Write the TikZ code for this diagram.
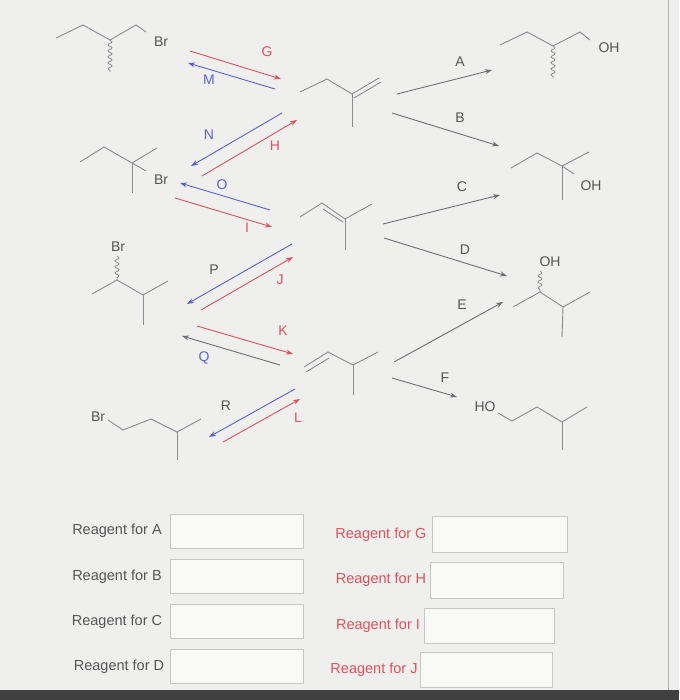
\documentclass[tikz,border=0pt]{standalone}
\usepackage{fontspec}
\setmainfont{Liberation Sans}
\usetikzlibrary{decorations.pathmorphing,arrows.meta}
\definecolor{bg}{HTML}{EFEFED}
\definecolor{rd}{HTML}{E0525C}
\definecolor{bl}{HTML}{5A62D2}
\definecolor{gr}{HTML}{6E6E78}
\definecolor{tx}{HTML}{555558}
\begin{document}
\begin{tikzpicture}[x=1pt,y=-1pt,
 bond/.style={draw=gr!80,line width=0.9pt},
 wavy/.style={draw=gr!80,line width=0.8pt,decorate,decoration={snake,amplitude=2pt,segment length=6pt}},
 rarr/.style={draw=rd,line width=0.9pt,-{Stealth[length=7pt,width=5pt]}},
 barr/.style={draw=bl,line width=0.9pt,-{Stealth[length=7pt,width=5pt]}},
 garr/.style={draw=gr,line width=0.9pt,-{Stealth[length=7pt,width=5pt]}},
 atom/.style={text=tx,font=\fontsize{14}{14}\selectfont,inner sep=0pt},
 lab/.style={font=\fontsize{14}{14}\selectfont,inner sep=0pt},
 box/.style={draw=gray!45,fill=white!60!bg,line width=0.8pt},
 rtxt/.style={font=\fontsize{14.5}{14.5}\selectfont,inner sep=0pt}]
\fill[bg] (0,0) rectangle (679,700);
\useasboundingbox (0,0) rectangle (679,700);
\fill[black!75] (0,690) rectangle (679,700);
\draw[gray!60,line width=1pt] (668,0) -- (668,690);
% structure 1
\draw[bond] (56,38)--(83,25)--(110,40)--(136,25)--(146,32);
\node[atom] (br1) at (161,42) {Br};
\draw[wavy] (110,40)--(110,72);
% structure 2
\draw[bond] (80,162)--(104,147)--(132,163)--(157,148);
\draw[bond] (132,163)--(132,193);\draw[bond] (132,163)--(146,171);
\node[atom] (br2) at (161,180) {Br};
% structure 3
\node[atom] (br3) at (118,247) {Br};
\draw[wavy] (117,256)--(117,280);
\draw[bond] (92,294)--(117,280)--(143,295)--(168,281);
\draw[bond] (143,295)--(143,325);
% structure 4
\node[atom] (br4) at (98,417) {Br};
\draw[bond] (108,420)--(123,430)--(151,419)--(177,432)--(201,419);
\draw[bond] (177,432)--(177,460);
% alkene 1
\draw[bond] (300,92)--(327,79)--(352,94)--(379,78);
\draw[bond] (354,98)--(381,82);
\draw[bond] (352,94)--(352,127);
% alkene 2
\draw[bond] (300,217)--(322,203)--(345,219)--(372,204);
\draw[bond] (323,209)--(343,222);
\draw[bond] (345,219)--(345,250);
% alkene 3
\draw[bond] (304,367)--(328,352)--(353,365)--(378,352);
\draw[bond] (306,372)--(329,358);
\draw[bond] (353,365)--(353,395);
% OH products
\draw[bond] (500,45)--(527,32)--(553,46)--(580,32)--(590,40);
\draw[wavy] (553,46)--(553,78);
\node[atom] (oh1) at (609,48) {OH};
\draw[bond] (511,168)--(537,153)--(562,166)--(589,152);
\draw[bond] (562,166)--(562,200);\draw[bond] (562,166)--(574,174);
\node[atom] (oh2) at (591,186) {OH};
\node[atom] (oh3) at (550,262) {OH};
\draw[wavy] (540,271)--(540,292);
\draw[bond] (513,307)--(540,292)--(563,307)--(590,292);
\draw[bond] (563,307)--(562,337);
\node[atom] (oh4) at (485,407) {HO};
\draw[bond] (498,413)--(512,421)--(537,407)--(562,422)--(587,407);
\draw[bond] (562,422)--(562,450);
% arrows
\coordinate (g1) at (190,51);\coordinate (g2) at (281,79);
\draw[rarr] (g1)--(g2); \node[lab,text=rd] (G) at (267,52) {G};
\coordinate (m1) at (275,89);\coordinate (m2) at (188,63);
\draw[barr] (m1)--(m2); \node[lab,text=bl] (M) at (209,80) {M};
\coordinate (n1) at (282,113);\coordinate (n2) at (191,166);
\draw[barr] (n1)--(n2); \node[lab,text=bl] (N) at (209,135) {N};
\coordinate (h1) at (202,176);\coordinate (h2) at (297,120);
\draw[rarr] (h1)--(h2); \node[lab,text=rd] (H) at (275,146) {H};
\coordinate (o1) at (270,210);\coordinate (o2) at (180,183);
\draw[barr] (o1)--(o2); \node[lab,text=bl] (O) at (222,185) {O};
\coordinate (i1) at (175,198);\coordinate (i2) at (272,227);
\draw[rarr] (i1)--(i2); \node[lab,text=rd] (I) at (247,228) {I};
\coordinate (p1) at (292,244);\coordinate (p2) at (187,304);
\draw[barr] (p1)--(p2); \node[lab,text=tx] (P) at (214,270) {P};
\coordinate (j1) at (201,310);\coordinate (j2) at (293,257);
\draw[rarr] (j1)--(j2); \node[lab,text=rd] (J) at (280,280) {J};
\coordinate (k1) at (197,326);\coordinate (k2) at (293,354);
\draw[rarr] (k1)--(k2); \node[lab,text=rd] (K) at (283,331) {K};
\coordinate (q1) at (280,365);\coordinate (q2) at (182,336);
\draw[garr] (q1)--(q2); \node[lab,text=bl] (Q) at (204,358) {Q};
\coordinate (r1) at (295,389);\coordinate (r2) at (209,437);
\draw[barr] (r1)--(r2); \node[lab,text=tx] (R) at (226,406) {R};
\coordinate (l1) at (223,442);\coordinate (l2) at (300,399);
\draw[rarr] (l1)--(l2); \node[lab,text=rd] (L) at (298,418) {L};
\coordinate (a1) at (397,94);\coordinate (a2) at (492,70);
\draw[garr] (a1)--(a2); \node[lab,text=tx] (A) at (460,62) {A};
\coordinate (b1) at (392,113);\coordinate (b2) at (499,146);
\draw[garr] (b1)--(b2); \node[lab,text=tx] (B) at (460,118) {B};
\coordinate (c1) at (383,224);\coordinate (c2) at (500,195);
\draw[garr] (c1)--(c2); \node[lab,text=tx] (C) at (462,187) {C};
\coordinate (d1) at (384,238);\coordinate (d2) at (507,276);
\draw[garr] (d1)--(d2); \node[lab,text=tx] (D) at (465,250) {D};
\coordinate (e1) at (394,362);\coordinate (e2) at (503,302);
\draw[garr] (e1)--(e2); \node[lab,text=tx] (E) at (462,305) {E};
\coordinate (f1) at (392,378);\coordinate (f2) at (457,397);
\draw[garr] (f1)--(f2); \node[lab,text=tx] (F) at (445,378) {F};
% table
\node[rtxt,text=tx] (tA) at (117,531) {Reagent for A};
\node[rtxt,text=tx] (tB) at (117,577) {Reagent for B};
\node[rtxt,text=tx] (tC) at (117,622) {Reagent for C};
\node[rtxt,text=tx] (tD) at (119,667) {Reagent for D};
\draw[box] (170,514) rectangle (303,548);
\draw[box] (170,559) rectangle (303,593);
\draw[box] (170,604) rectangle (303,638);
\draw[box] (170,649) rectangle (303,683);
\node[rtxt,text=rd] (tG) at (381,535) {Reagent for G};
\node[rtxt,text=rd] (tH) at (381,580) {Reagent for H};
\node[rtxt,text=rd] (tI) at (378,626) {Reagent for I};
\node[rtxt,text=rd] (tJ) at (374,670) {Reagent for J};
\draw[box] (432,516) rectangle (567,552);
\draw[box] (430,562) rectangle (563,598);
\draw[box] (424,608) rectangle (554,643);
\draw[box] (420,652) rectangle (552,687);
\end{tikzpicture}
\end{document}
